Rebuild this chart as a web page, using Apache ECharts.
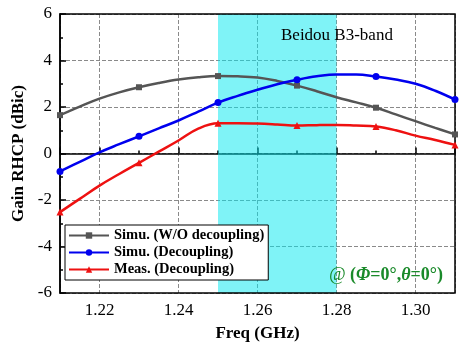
<!DOCTYPE html>
<html><head><meta charset="utf-8">
<script src="https://cdn.jsdelivr.net/npm/echarts@6/dist/echarts.min.js"></script>
<style>html,body{margin:0;padding:0;background:#fff}#c{width:474px;height:355px}</style>
</head><body><div id="c"></div>
<script>
const freq = [1.21, 1.215, 1.22, 1.225, 1.23, 1.235, 1.24, 1.245, 1.25, 1.255, 1.26, 1.265, 1.27, 1.275, 1.28, 1.285, 1.29, 1.295, 1.30, 1.305, 1.31];
const markerFreq = [1.21, 1.23, 1.25, 1.27, 1.29, 1.31];
const simuWO  = [1.65, 2.02, 2.36, 2.63, 2.85, 3.03, 3.18, 3.28, 3.33, 3.32, 3.27, 3.12, 2.92, 2.68, 2.42, 2.20, 1.97, 1.68, 1.39, 1.10, 0.82];
const simuDec = [-0.77, -0.36, 0.05, 0.40, 0.74, 1.08, 1.42, 1.80, 2.19, 2.48, 2.74, 2.98, 3.17, 3.32, 3.40, 3.40, 3.31, 3.18, 3.00, 2.70, 2.32];
const meas    = [-2.52, -1.95, -1.38, -0.88, -0.40, 0.08, 0.56, 1.07, 1.30, 1.30, 1.29, 1.25, 1.20, 1.22, 1.23, 1.20, 1.16, 1.00, 0.77, 0.58, 0.37];
const band = [1.25, 1.28];

function pairs(arr){ return freq.map((f,i)=>[f, arr[i]]); }
function symSize(s){ return function(v){ return markerFreq.some(m=>Math.abs(m-v[0])<1e-6) ? s : 0; }; }
const serif = '"Liberation Serif","DejaVu Serif",serif';
const gridLine = {show:true, lineStyle:{type:'dashed', color:'#8a8a8a', width:1}};

const chart = echarts.init(document.getElementById('c'));
chart.setOption({
  animation:false,
  grid:{left:60, right:19, top:14, bottom:62, show:true, borderColor:'#000', borderWidth:1.5, backgroundColor:'transparent', z:3},
  xAxis:{
    type:'value', min:1.21, max:1.31,
    name:'Freq (GHz)', nameLocation:'middle', nameGap:32,
    nameTextStyle:{fontFamily:serif, fontWeight:'bold', fontSize:17, color:'#000'},
    axisLine:{lineStyle:{color:'#000', width:1.5}},
    axisTick:{inside:true, length:6, lineStyle:{color:'#000',width:1.5}},
    minorTick:{show:true, splitNumber:2, length:3, lineStyle:{color:'#000',width:1.5}},
    axisLabel:{showMinLabel:false, showMaxLabel:false, fontFamily:serif, fontSize:17, color:'#000', margin:9, formatter:v=>v.toFixed(2)},
    splitLine:gridLine
  },
  yAxis:{
    type:'value', min:-6, max:6, interval:2,
    name:'Gain RHCP (dBic)', nameLocation:'middle', nameGap:29,
    nameTextStyle:{fontFamily:serif, fontWeight:'bold', fontSize:17, color:'#000'},
    axisLine:{show:true, lineStyle:{color:'#000', width:1.5}},
    axisTick:{inside:true, length:6, lineStyle:{color:'#000',width:1.5}},
    minorTick:{show:true, splitNumber:2, length:3, lineStyle:{color:'#000',width:1.5}},
    axisLabel:{fontFamily:serif, fontSize:17, color:'#000', margin:8},
    splitLine:gridLine
  },
  legend:{
    left:65, top:225, orient:'vertical', itemGap:2, itemWidth:40, itemHeight:8,
    padding:[3,4,3,3], z:20,
    borderColor:'#000', borderWidth:1, backgroundColor:'#fff',
    textStyle:{fontFamily:serif, fontWeight:'bold', fontSize:14.5, color:'#000'},
    data:['Simu. (W/O decoupling)','Simu. (Decoupling)','Meas. (Decoupling)']
  },
  series:[
    {name:'Simu. (W/O decoupling)', type:'line', smooth:0.4, data:pairs(simuWO), z:5,
     symbol:'rect', symbolSize:symSize(6), color:'#555555', lineStyle:{width:2.5},
     markArea:{silent:true, itemStyle:{color:'rgba(0,232,240,0.5)'}, data:[[{xAxis:band[0]},{xAxis:band[1]}]]}},
    {name:'Simu. (Decoupling)', type:'line', smooth:0.4, data:pairs(simuDec), z:5,
     symbol:'circle', symbolSize:symSize(7), color:'#0000ee', lineStyle:{width:2.5}},
    {name:'Meas. (Decoupling)', type:'line', smooth:0.4, data:pairs(meas), z:5,
     symbol:'triangle', symbolSize:symSize(7), color:'#ee1111', lineStyle:{width:2.5}}
  ],
  graphic:[
    {type:'text', left:281, top:27, z:100, style:{text:'Beidou B3-band', font:'17px '+serif, fill:'#000'}},
    {type:'text', left:329, top:266, z:100, style:{
      text:'{a|@} ({i|Φ}=0°,{i|θ}=0°)', font:'bold 18px '+serif, fill:'#1a8a2a',
      rich:{a:{font:'italic 18px '+serif, fill:'#1a8a2a'}, i:{font:'italic bold 18px '+serif, fill:'#1a8a2a'}}}}
  ]
});
</script></body></html>
